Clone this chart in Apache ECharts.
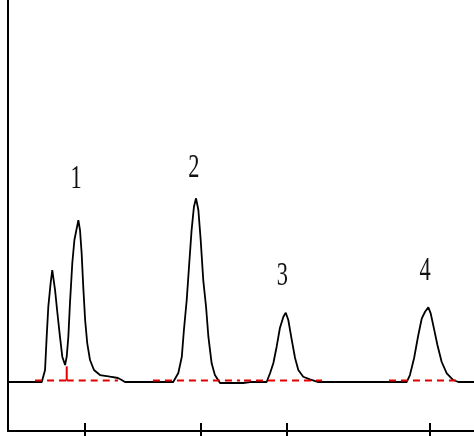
<!DOCTYPE html>
<html><head><meta charset="utf-8">
<script src="https://cdn.jsdelivr.net/npm/echarts@6/dist/echarts.min.js"></script>
<style>html,body{margin:0;padding:0;background:#fff}#c{width:474px;height:436px}</style>
</head><body><div id="c"></div>
<script>
// Chromatogram trace (time in min, signal in mV)
const traceTime = [0,1.45,1.59,1.66,1.73,1.83,1.90,2.02,2.12,2.23,
  2.33,2.45,2.52,2.59,2.66,2.76,2.85,3.02,3.09,3.16,
  3.23,3.31,3.40,3.52,3.69,3.95,4.38,4.72,4.88,5.02,
  7.09,7.31,7.46,7.55,7.67,7.78,7.88,7.98,8.07,8.17,
  8.27,8.38,8.50,8.60,8.74,8.88,9.10,10.09,10.39,11.10,
  11.25,11.39,11.53,11.67,11.82,11.92,12.03,12.18,12.32,12.46,
  12.67,12.96,13.32,17.11,17.25,17.43,17.61,17.76,17.90,18.04,
  18.14,18.28,18.43,18.61,18.83,19.11,19.33,20];
const traceSignal = [0,0,2.45,9.25,15.37,20.21,22.87,18.78,14.09,9.25,
  5.17,3.47,5.17,9.25,16.13,24.30,28.99,33.07,31.03,26.34,
  19.46,12.66,7.96,4.49,2.45,1.43,1.08,0.82,0.41,0,
  0,1.84,5.17,10.62,16.74,24.30,31.03,35.79,37.51,35.12,
  28.99,20.82,15.37,9.25,3.82,1.43,-0.2,-0.2,0,0,
  1.84,3.88,7.21,11.03,13.33,14.15,12.66,8.57,4.90,2.45,
  1.08,0.55,0,0,1.43,4.90,9.60,13.01,14.35,15.25,
  14.03,10.96,7.55,4.14,1.78,0.41,0,0];

// Integration baselines (red dashed)
const baselineStart = [1.16, 2.52, 6.22, 10.13, 16.35];
const baselineEnd   = [2.52, 4.72, 9.96, 13.48, 19.27];
const baselineLevel = 0.3;
const dropTime = 2.52;
const dropTop = 3.2;

// Peak labels
const peakLabels = ['1', '2', '3', '4'];
const labelTime = [2.92, 7.98, 11.78, 17.90];
const labelSignal = [41.4, 43.7, 21.5, 22.5];

// Axis ticks
const tickTimes = [3.30, 8.28, 11.97, 18.11];

const chart = echarts.init(document.getElementById('c'), null, {renderer: 'canvas'});

const redSeries = baselineStart.map((s, i) => ({
  type: 'line', data: [[s, baselineLevel], [baselineEnd[i], baselineLevel]],
  showSymbol: false, silent: true, z: 4,
  lineStyle: {color: '#e00000', width: 2, type: [7, 5]}
}));
redSeries.push({
  type: 'line', data: [[dropTime, baselineLevel], [dropTime, dropTop]],
  showSymbol: false, silent: true, z: 4,
  lineStyle: {color: '#e00000', width: 2}
});

chart.setOption({
  animation: false,
  backgroundColor: '#fff',
  grid: {left: 8, right: 0, top: 0, bottom: 5, containLabel: false},
  xAxis: [{
    type: 'value', min: 0, max: 20, position: 'bottom',
    axisLine: {onZero: false, lineStyle: {color: '#000', width: 2}},
    axisTick: {show: true, inside: true, length: 8, customValues: tickTimes, lineStyle: {color: '#000', width: 2}},
    axisLabel: {show: false}, splitLine: {show: false}
  }, {
    type: 'value', min: 0, max: 20, position: 'bottom',
    axisLine: {show: false, onZero: false},
    axisTick: {show: true, inside: false, length: 6, customValues: tickTimes, lineStyle: {color: '#000', width: 2}},
    axisLabel: {show: false}, splitLine: {show: false}
  }],
  yAxis: {
    type: 'value', min: -10, max: 78,
    axisLine: {show: true, onZero: false, lineStyle: {color: '#000', width: 2}},
    axisTick: {show: false}, axisLabel: {show: false}, splitLine: {show: false}
  },
  series: [{
    type: 'line', data: traceTime.map((t, i) => [t, traceSignal[i]]),
    showSymbol: false, silent: true, z: 3,
    lineStyle: {color: '#000', width: 1.8}
  }].concat(redSeries).concat([{
    type: 'custom', silent: true, clip: false, z: 5,
    data: labelTime.map((t, i) => [t, labelSignal[i], i]),
    renderItem: function (params, api) {
      const p = api.coord([api.value(0), api.value(1)]);
      return {
        type: 'text', x: p[0], y: p[1], scaleX: 0.68,
        style: {
          text: peakLabels[api.value(2)],
          font: '33px "Liberation Serif", "DejaVu Serif", serif',
          fill: '#111', align: 'center', verticalAlign: 'middle'
        }
      };
    }
  }])
});
</script></body></html>
